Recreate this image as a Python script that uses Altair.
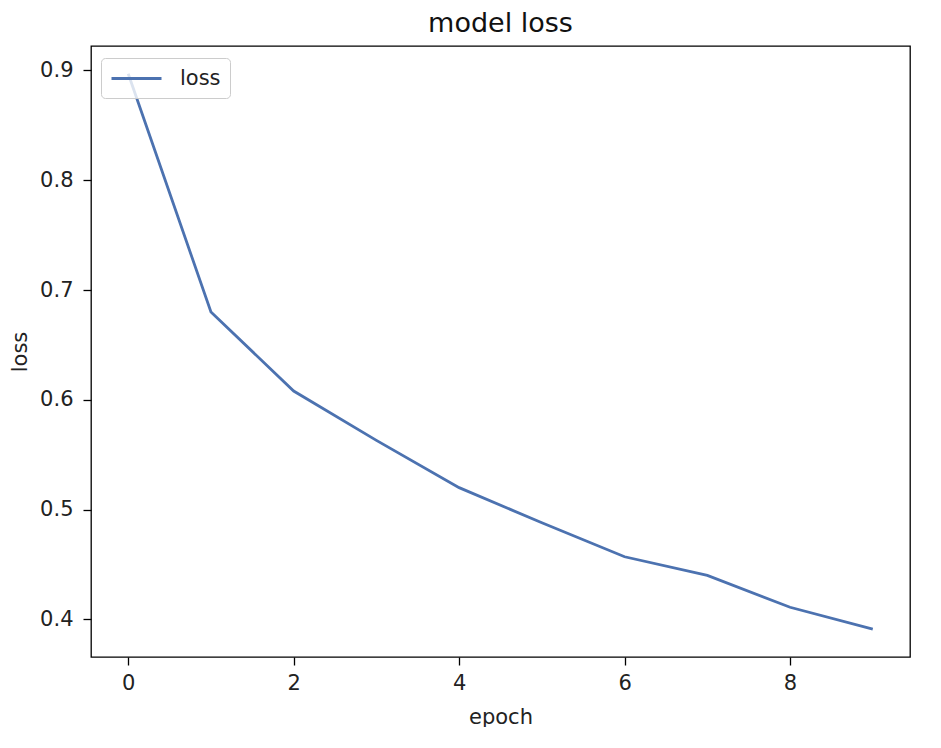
import altair as alt
import pandas as pd

epoch = [0, 1, 2, 3, 4, 5, 6, 7, 8, 9]
loss = [0.897, 0.680, 0.608, 0.563, 0.520, 0.488, 0.457, 0.440, 0.411, 0.391]
series = ["loss"] * len(epoch)
x_ticks = [0, 2, 4, 6, 8]
y_ticks = [0.4, 0.5, 0.6, 0.7, 0.8, 0.9]

df = pd.DataFrame({"epoch": epoch, "loss": loss, "series": series})

FONT = "DejaVu Sans"

chart = alt.Chart(df).mark_line(strokeWidth=2.8).encode(
    x=alt.X("epoch:Q",
            scale=alt.Scale(domain=[-0.45, 9.45], nice=False, zero=False),
            axis=alt.Axis(values=x_ticks, format="d", title="epoch",
                          titleY=66, titleBaseline="alphabetic")),
    y=alt.Y("loss:Q",
            scale=alt.Scale(domain=[0.3657, 0.9223], nice=False, zero=False),
            axis=alt.Axis(values=y_ticks, format=".1f", title="loss",
                          titleX=-71, titleY=305.5, titleBaseline="middle",
                          titleAlign="center", titleAngle=270)),
    color=alt.Color("series:N",
                    scale=alt.Scale(domain=["loss"], range=["#4C72B0"]),
                    legend=alt.Legend(title=None, orient="none", legendX=10, legendY=12,
                                      symbolType="M-1,0H4", symbolSize=400,
                                      symbolStrokeWidth=2.8, labelOffset=47,
                                      labelFontSize=21, labelFont=FONT, labelColor="#222222",
                                      padding=9, fillColor="rgba(255,255,255,0.8)",
                                      strokeColor="#cccccc", cornerRadius=4)),
).properties(
    width=819,
    height=611,
    title=alt.TitleParams("model loss", font=FONT, fontSize=27, fontWeight="normal",
                          color="#111111", anchor="middle", offset=8, frame="group"),
    autosize=alt.AutoSizeParams(type="none"),
    padding={"left": 83, "top": 38, "right": 20, "bottom": 70},
).configure_view(
    stroke="black", strokeWidth=1.3
).configure_axis(
    domain=False, grid=False, ticks=True, tickColor="black", tickSize=8, tickWidth=1.3,
    labelFont=FONT, labelFontSize=21, labelColor="#222222", labelPadding=7,
    titleFont=FONT, titleFontSize=21, titleFontWeight="normal", titleColor="#222222",
).configure_axisY(labelPadding=10)

chart.save("out.html", embed_options={"renderer": "svg", "actions": False})
